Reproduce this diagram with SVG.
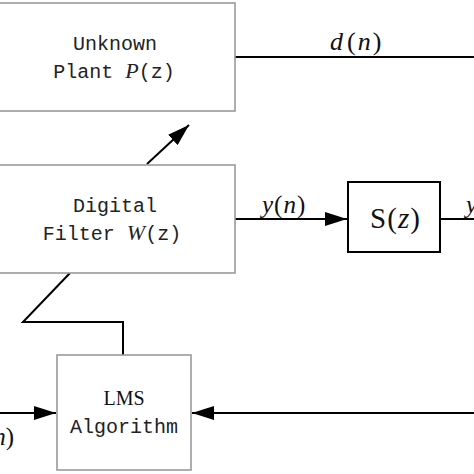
<svg xmlns="http://www.w3.org/2000/svg" width="474" height="474" viewBox="0 0 474 474">
  <style>
    .gbox { fill: #ffffff; stroke: #9a9a9a; stroke-width: 1.6; }
    .kbox { fill: #ffffff; stroke: #000000; stroke-width: 2; }
    .wire { fill: none; stroke: #000000; stroke-width: 2; }
    .mono { font-family: "Liberation Mono", "DejaVu Sans Mono", monospace; font-size: 20px; fill: #222; }
    .serif { font-family: "Liberation Serif", "Times New Roman", serif; fill: #111; }
    .it { font-style: italic; }
  </style>
  <defs>
    <marker id="arrow" markerUnits="userSpaceOnUse" markerWidth="22" markerHeight="14" refX="22" refY="7" orient="auto">
      <path d="M0,0 L22,7 L0,14 z" fill="#000"/>
    </marker>
  </defs>
  <rect x="0" y="0" width="474" height="474" fill="#ffffff"/>

  <g id="connectors">
    <line class="wire" x1="235" y1="57" x2="474" y2="57"/>
    <line class="wire" x1="147" y1="164" x2="189" y2="125" marker-end="url(#arrow)"/>
    <line class="wire" x1="235" y1="219" x2="347" y2="219" marker-end="url(#arrow)"/>
    <line class="wire" x1="440" y1="219" x2="474" y2="219"/>
    <polyline class="wire" points="70,273 23,322 123,322 123,355"/>
    <line class="wire" x1="0" y1="413" x2="56" y2="413" marker-end="url(#arrow)"/>
    <line class="wire" x1="474" y1="413" x2="192" y2="413" marker-end="url(#arrow)"/>
    <text class="serif" x="330" y="50" font-size="26"><tspan class="it">d</tspan><tspan dx="4">(</tspan><tspan class="it" dx="2">n</tspan><tspan dx="2">)</tspan></text>
    <text class="serif" x="262" y="213" font-size="25"><tspan class="it">y</tspan><tspan dx="1">(</tspan><tspan class="it" dx="1">n</tspan><tspan dx="1">)</tspan></text>
    <text class="serif it" x="466" y="213" font-size="25">y</text>
    <text class="serif" x="14" y="445" font-size="25" text-anchor="end"><tspan class="it">x</tspan>(<tspan class="it">n</tspan>)</text>
  </g>

  <g id="plant">
    <rect class="gbox" x="-2" y="3" width="237" height="108"/>
    <text class="mono" x="115" y="50" text-anchor="middle">Unknown</text>
    <text class="mono" x="114" y="78" text-anchor="middle">Plant <tspan font-family="Liberation Serif, serif" font-style="italic" font-size="22">P</tspan>(z)</text>
  </g>

  <g id="filter">
    <rect class="gbox" x="-2" y="165" width="237" height="108"/>
    <text class="mono" x="115" y="212" text-anchor="middle">Digital</text>
    <text class="mono" x="112" y="240" text-anchor="middle">Filter <tspan font-family="Liberation Serif, serif" font-style="italic" font-size="22">W</tspan>(z)</text>
  </g>

  <g id="secondary">
    <rect class="kbox" x="348" y="182" width="92" height="70"/>
    <text class="serif" x="395" y="228" font-size="29" text-anchor="middle">S<tspan dx="1">(</tspan><tspan class="it" dx="1">z</tspan><tspan dx="1">)</tspan></text>
  </g>

  <g id="lms">
    <rect class="gbox" x="57" y="355" width="134" height="115"/>
    <text class="serif" x="124" y="405" font-size="20" text-anchor="middle">LMS</text>
    <text class="mono" x="124" y="433" text-anchor="middle">Algorithm</text>
  </g>
</svg>
